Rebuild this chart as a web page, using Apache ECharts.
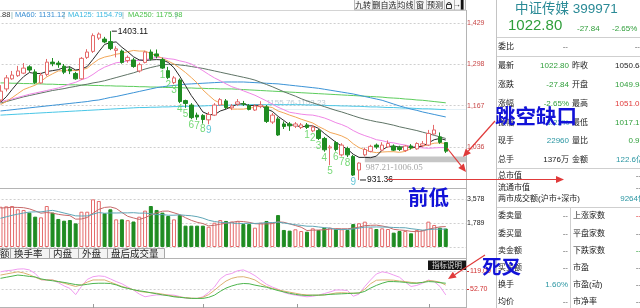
<!DOCTYPE html>
<html>
<head>
<meta charset="utf-8">
<title>中证传媒 399971</title>
<script src="https://cdn.jsdelivr.net/npm/echarts@6/dist/echarts.min.js"></script>
<style>
    html, body { margin: 0; padding: 0; background: #fff; }
    #kline { width: 640px; height: 308px; }
</style>
</head>
<body>
<div id="kline"></div>
<script>
// 81 slots, the last 3 are left empty like the terminal does
const categories = Array.from({ length: 81 }, (_, i) => 'D' + (i + 1));

const opens = [1185, 1220, 1252, 1262, 1270, 1290, 1274, 1239, 1266, 1305,
    1302, 1292, 1283, 1269, 1252, 1320, 1339, 1381, 1378, 1370,
    1342, 1340, 1310, 1312, 1277, 1304, 1337, 1331, 1313, 1278,
    1240, 1248, 1183, 1169, 1137, 1136, 1122, 1137, 1169, 1182,
    1160, 1172, 1173, 1167, 1153, 1164, 1163, 1115, 1125, 1109,
    1109, 1102, 1098, 1106, 1087, 1088, 1063, 1033, 1050, 1011,
    1031, 1006, 963, 1011, 1022, 1042, 1026, 1036, 1039, 1035,
    1025, 1039, 1030, 1040, 1042, 1077, 1068, 1049.94];
const closes = [1213, 1255, 1264, 1277, 1286, 1280, 1240, 1264, 1305, 1300,
    1297, 1273, 1277, 1252, 1317, 1337, 1389, 1394, 1369, 1348,
    1347, 1304, 1320, 1291, 1297, 1337, 1315, 1324, 1286, 1256,
    1255, 1180, 1174, 1129, 1131, 1123, 1139, 1169, 1186, 1161,
    1166, 1179, 1172, 1155, 1166, 1169, 1117, 1137, 1074, 1101,
    1103, 1109, 1106, 1098, 1099, 1063, 1027, 1036, 1028, 1042,
    1011, 947, 985, 1028, 1038, 1036, 1042, 1047, 1026, 1028,
    1039, 1033, 1047, 1046, 1079, 1090, 1050.64, 1022.80];
const lows = [1178, 1212, 1249, 1258, 1267, 1274, 1236, 1236, 1260, 1292,
    1287, 1267, 1267, 1249, 1249, 1315, 1334, 1375, 1365, 1343,
    1320, 1300, 1303, 1287, 1272, 1301, 1310, 1317, 1283, 1251,
    1235, 1175, 1160, 1124, 1122, 1110, 1108, 1134, 1166, 1156,
    1153, 1166, 1166, 1152, 1150, 1159, 1112, 1109, 1071, 1093,
    1087, 1096, 1093, 1093, 1083, 1058, 1021, 978, 1022, 1006,
    1004, 944, 931.36, 1006.05, 1019, 1030, 1023, 1033, 1023, 1023,
    1020, 1028, 1027, 1035, 1039, 1074, 1046, 1017.19];
const highs = [1232, 1264, 1277, 1293, 1302, 1295, 1282, 1271, 1315, 1318,
    1309, 1299, 1292, 1274, 1321, 1346, 1396, 1399, 1385, 1403.11,
    1355, 1345, 1326, 1318, 1303, 1341, 1345, 1345, 1319, 1290,
    1261, 1253, 1186, 1175, 1145, 1140, 1147, 1175, 1191, 1188,
    1172, 1188, 1182, 1172, 1171, 1181, 1169, 1144, 1131, 1117,
    1115, 1115, 1112, 1112, 1106, 1093, 1068, 1042, 1055, 1048,
    1037, 1011, 987.21, 1034, 1043, 1047, 1051, 1057, 1044, 1040,
    1042, 1045, 1051, 1055, 1090, 1106, 1082, 1051.03];

const ma5 = [1178, 1195, 1218, 1240, 1259, 1272, 1269, 1269, 1275, 1278,
    1281, 1288, 1290, 1280, 1283, 1291, 1314, 1338, 1361, 1367,
    1369, 1352, 1338, 1322, 1312, 1310, 1312, 1313, 1312, 1304,
    1287, 1260, 1230, 1199, 1174, 1147, 1139, 1138, 1150, 1156,
    1164, 1172, 1173, 1167, 1168, 1168, 1156, 1149, 1133, 1120,
    1106, 1105, 1099, 1103, 1103, 1095, 1079, 1065, 1051, 1039,
    1029, 1013, 1003, 1003, 1002, 1007, 1026, 1038, 1038, 1036,
    1036, 1035, 1035, 1039, 1049, 1059, 1063, 1058];
const ma10 = [1170, 1180, 1192, 1205, 1218, 1225, 1232, 1244, 1258, 1268,
    1277, 1278, 1280, 1278, 1280, 1286, 1301, 1314, 1321, 1325,
    1330, 1333, 1338, 1342, 1340, 1340, 1332, 1326, 1317, 1308,
    1299, 1286, 1272, 1256, 1239, 1217, 1200, 1184, 1175, 1165,
    1156, 1156, 1156, 1159, 1162, 1166, 1164, 1161, 1150, 1144,
    1137, 1131, 1124, 1118, 1112, 1101, 1092, 1082, 1077, 1071,
    1062, 1046, 1034, 1027, 1021, 1018, 1020, 1021, 1021, 1019,
    1022, 1031, 1037, 1039, 1043, 1048, 1049, 1047];
const ma20 = [1180, 1184, 1188, 1193, 1198, 1203, 1207, 1211, 1215, 1219,
    1223, 1229, 1236, 1241, 1249, 1255, 1266, 1279, 1289, 1296,
    1303, 1305, 1309, 1310, 1310, 1313, 1316, 1320, 1319, 1316,
    1314, 1309, 1305, 1299, 1289, 1278, 1266, 1255, 1246, 1236,
    1227, 1221, 1214, 1207, 1200, 1191, 1182, 1172, 1162, 1154,
    1146, 1143, 1140, 1138, 1137, 1133, 1128, 1121, 1113, 1107,
    1099, 1088, 1079, 1072, 1066, 1059, 1056, 1051, 1049, 1045,
    1042, 1038, 1035, 1033, 1032, 1033, 1034, 1034];
const ma30 = [1175, 1180, 1185, 1190, 1195, 1199, 1203, 1207, 1211, 1215,
    1218, 1221, 1225, 1228, 1232, 1235, 1239, 1242, 1246, 1251,
    1256, 1261, 1266, 1271, 1277, 1283, 1288, 1292, 1296, 1298,
    1298, 1296, 1294, 1291, 1288, 1285, 1281, 1277, 1273, 1269,
    1265, 1261, 1257, 1253, 1248, 1241, 1234, 1227, 1219, 1211,
    1204, 1197, 1189, 1182, 1176, 1170, 1164, 1158, 1152, 1147,
    1141, 1135, 1129, 1124, 1120, 1116, 1113, 1109, 1105, 1100,
    1096, 1092, 1088, 1083, 1078, 1073, 1068, 1063];
const ma60 = [1150, 1152, 1154, 1156, 1158, 1160, 1162, 1164, 1166, 1168,
    1170, 1172, 1174, 1176, 1178, 1180, 1183, 1185, 1189, 1193,
    1196, 1200, 1204, 1208, 1212, 1216, 1220, 1224, 1227, 1229,
    1231, 1233, 1235, 1236, 1237, 1238, 1239, 1240, 1241, 1242,
    1242, 1242, 1242, 1241, 1240, 1239, 1238, 1237, 1236, 1234,
    1232, 1230, 1228, 1226, 1224, 1222, 1219, 1216, 1213, 1210,
    1207, 1204, 1200, 1196, 1192, 1188, 1184, 1178, 1172, 1166,
    1161, 1156, 1152, 1147, 1143, 1139, 1135, 1131.12];
const ma125 = [1137, 1138, 1139, 1140, 1141, 1142, 1143, 1144, 1145, 1146,
    1147, 1148, 1149, 1150, 1151, 1152, 1153, 1154, 1155, 1156,
    1157, 1158, 1159, 1160, 1161, 1161, 1162, 1162, 1163, 1163,
    1164, 1164, 1165, 1165, 1166, 1166, 1167, 1167, 1168, 1168,
    1169, 1169, 1169, 1170, 1170, 1170, 1170, 1170, 1170, 1170,
    1170, 1170, 1170, 1169, 1169, 1168, 1168, 1167, 1167, 1166,
    1166, 1165, 1165, 1164, 1163, 1163, 1162, 1161, 1161, 1160,
    1159, 1159, 1158, 1157, 1157, 1156, 1155, 1154.79];
const ma250 = [1239, 1239, 1238, 1238, 1237, 1237, 1236, 1236, 1235, 1235,
    1234, 1234, 1233, 1233, 1232, 1232, 1231, 1231, 1230, 1230,
    1229, 1229, 1228, 1228, 1227, 1227, 1226, 1226, 1225, 1225,
    1224, 1224, 1223, 1223, 1222, 1222, 1221, 1221, 1220, 1220,
    1220, 1219, 1218, 1217, 1216, 1215, 1214, 1213, 1212, 1211,
    1210, 1209, 1208, 1207, 1206, 1205, 1204, 1203, 1202, 1201,
    1200, 1199, 1198, 1197, 1196, 1195, 1194, 1192, 1191, 1190,
    1188, 1187, 1185, 1184, 1182, 1180, 1178, 1175.98];

const volumes = [3000, 3030, 3055, 2810, 2760, 2560, 2260, 2210, 3055, 2560,
    2090, 1960, 2010, 1760, 2630, 2630, 3550, 3430, 2510, 2810,
    2060, 2060, 2000, 1900, 2260, 2710, 3055, 2760, 2560, 2310,
    2060, 2380, 1590, 1590, 1590, 1590, 1510, 1810, 2010, 1940,
    1900, 1920, 1710, 1710, 1440, 1810, 1940, 1810, 2380, 1270,
    1220, 1320, 1190, 1140, 1390, 1270, 1440, 1440, 1320, 1320,
    1270, 1710, 1770, 1890, 1440, 1340, 1390, 1340, 1070, 1190,
    1190, 1020, 1270, 1270, 1890, 1640, 1440, 1376];
const volMa5 = [2900, 2930, 2960, 2950, 2931, 2843, 2689, 2520, 2569, 2529,
    2435, 2375, 2335, 2076, 2090, 2198, 2516, 2800, 2950, 2986,
    2872, 2574, 2288, 2166, 2056, 2186, 2385, 2537, 2669, 2679,
    2549, 2414, 2180, 1986, 1842, 1748, 1574, 1618, 1702, 1772,
    1834, 1916, 1896, 1836, 1736, 1718, 1722, 1742, 1876, 1842,
    1724, 1600, 1476, 1228, 1252, 1262, 1286, 1336, 1372, 1358,
    1358, 1412, 1478, 1592, 1616, 1630, 1566, 1480, 1316, 1266,
    1236, 1162, 1148, 1188, 1328, 1418, 1502, 1523];
const volMa10 = [2140, 2250, 2360, 2450, 2530, 2600, 2620, 2620, 2680, 2730,
    2639, 2532, 2428, 2323, 2310, 2317, 2446, 2568, 2513, 2538,
    2535, 2545, 2544, 2558, 2521, 2529, 2480, 2413, 2418, 2368,
    2368, 2400, 2359, 2328, 2261, 2149, 1994, 1899, 1844, 1807,
    1791, 1745, 1757, 1769, 1754, 1776, 1819, 1819, 1856, 1789,
    1721, 1661, 1609, 1552, 1547, 1493, 1443, 1406, 1300, 1305,
    1310, 1349, 1407, 1482, 1487, 1494, 1489, 1479, 1454, 1441,
    1433, 1364, 1314, 1252, 1297, 1327, 1332, 1336];

// lower indicator, three lines
const indFast = [116, 120, 122, 126, 127, 123, 110, 87, 86, 86,
    76, 64, 55, 32, 62, 88, 98, 101, 99, 90,
    80, 72, 60, 49, 34, 24, 28, 31, 31, 31,
    30, 25, 19, 18, 18, 24, 40, 60, 90, 105,
    110, 120, 123, 114, 102, 86, 70, 60, 52, 40,
    34, 30, 27, 24, 26, 30, 36, 42, 49, 49,
    47, 26, 34, 62, 86, 108, 116, 112, 104, 96,
    78, 62, 66, 74, 86, 80, 62, 31];
const indMid = [104, 108, 112, 116, 112, 105, 96, 87, 86, 86,
    80, 74, 68, 62, 68, 78, 86, 86, 86, 78,
    70, 62, 56, 50, 44, 41, 39, 37, 34, 30,
    26, 23, 21, 19, 18, 22, 32, 48, 66, 82,
    92, 97, 98, 93, 86, 72, 62, 55, 50, 45,
    41, 37, 33, 31, 30, 30, 31, 34, 38, 39,
    38, 37, 38, 52, 72, 85, 86, 86, 85, 82,
    80, 77, 75, 77, 84, 82, 78, 67];
const indSlow = [92, 96, 100, 104, 102, 99, 97, 90, 86, 83,
    80, 77, 73, 69, 67, 70, 73, 74, 74, 73,
    68, 60, 55, 50, 46, 43, 39, 35, 31, 28,
    24, 22, 20, 18, 18, 18, 22, 30, 44, 56,
    64, 70, 73, 72, 67, 63, 59, 53, 47, 42,
    37, 33, 30, 29, 30, 30, 31, 33, 34, 35,
    36, 37, 38, 44, 56, 66, 74, 80, 80, 79,
    77, 74, 74, 77, 80, 79, 76, 74];

// nine-turn counts under the candles
const tdIndex = [28, 29, 30, 31, 32, 33, 34, 35, 36, 53, 54, 55, 56, 57, 58, 59, 60, 61];
const tdCount = [1, 2, 3, 4, 5, 6, 7, 8, 9, 1, 2, 3, 4, 5, 6, 7, 8, 9];

// price, volume and indicator tick values
const priceTicks = { min: 905, max: 1470.2, step: 131 };
const volTicks = { min: 0, max: 4375, step: 1789 };
const indTicks = { min: -13.6, max: 166.9, step: 66.3 };

const UP = '#e46a6a';
const DOWN = '#1f8c22';
const GREEN = '#2f9e3a';
const TEAL = '#2b96a2';
const RED = '#e03a3a';
const BLUE_NOTE = '#1212d8';
const FONT = '"Liberation Sans", "Noto Sans CJK SC", sans-serif';
const CJK = '"Noto Sans CJK SC", sans-serif';

let candleData = opens.map((o, i) => [o, closes[i], lows[i], highs[i]]);
let volData = volumes.map((v, i) => ({
    value: v,
    itemStyle: closes[i] >= opens[i]
        ? { color: '#fff', borderColor: UP, borderWidth: 1 }
        : { color: DOWN, borderColor: DOWN, borderWidth: 1 }
}));
let tdData = tdIndex.map((idx, k) => ({
    value: [categories[idx], lows[idx]],
    label: { color: tdCount[k] === 9 ? '#3bb6cc' : '#55cf55' }
}));

function maLine(name, data, color, xi, yi) {
    return {
        name: name, type: 'line', data: data,
        xAxisIndex: xi || 0, yAxisIndex: yi || 0,
        symbol: 'none', silent: true,
        lineStyle: { color: color, width: 1 }, z: 3
    };
}

function txt(x, y, s, fill, size, align, extra) {
    return {
        type: 'text', x: x, y: y, silent: true, z: 20,
        style: Object.assign({
            text: s, fill: fill || '#222', fontSize: size || 8, fontFamily: FONT,
            align: align || 'left', verticalAlign: 'middle'
        }, extra || {})
    };
}
function hline(x1, x2, y, color) {
    return { type: 'line', silent: true, z: 10, shape: { x1: x1, y1: y, x2: x2, y2: y }, style: { stroke: color, lineWidth: 1 } };
}
function vline(x, y1, y2, color) {
    return { type: 'line', silent: true, z: 10, shape: { x1: x, y1: y1, x2: x, y2: y2 }, style: { stroke: color, lineWidth: 1 } };
}
function arrow(x1, y1, x2, y2, color) {
    let a = Math.atan2(y2 - y1, x2 - x1);
    let bx = x2 - 8 * Math.cos(a), by = y2 - 8 * Math.sin(a);
    let px = -Math.sin(a) * 3.5, py = Math.cos(a) * 3.5;
    return [
        { type: 'line', silent: true, z: 30, shape: { x1: x1, y1: y1, x2: bx, y2: by }, style: { stroke: color, lineWidth: 1.2 } },
        { type: 'polygon', silent: true, z: 30, shape: { points: [[x2, y2], [bx + px, by + py], [bx - px, by - py]] }, style: { fill: color } }
    ];
}

let g = [];
// frame
g.push(hline(0, 466, 10.5, '#d4d4d4'));
g.push(hline(0, 466, 188.5, '#b4b4b4'));
g.push(hline(0, 466, 258.5, '#b4b4b4'));
g.push(hline(0, 466, 307.5, '#b4b4b4'));
g.push(vline(466.5, 10, 308, '#b4b4b4'));
g.push(vline(496.5, 0, 308, '#c4c4c4'));
[93.5, 203.5, 297.5, 429.5].forEach(x => g.push(vline(x, 304, 308, '#9a9a9a')));

// toolbar
[['九转', 354, 372], ['删自选', 372, 397], ['均线', 397, 414], ['窗', 414, 426], ['预测', 426, 444], ['', 444, 454], ['', 454, 465]].forEach(b => {
    g.push({ type: 'rect', silent: true, z: 10, shape: { x: b[1] + 0.5, y: -1, width: b[2] - b[1], height: 11 }, style: { fill: '#f7f7f7', stroke: '#b9b9b9', lineWidth: 1 } });
    if (b[0]) g.push(txt((b[1] + b[2]) / 2, 5, b[0], '#222', 8, 'center', { fontFamily: CJK }));
});
g.push({ type: 'rect', silent: true, z: 11, shape: { x: 446.5, y: 4.5, width: 5, height: 4 }, style: { fill: 'none', stroke: '#333', lineWidth: 1 } });
g.push({ type: 'arc', silent: true, z: 11, shape: { cx: 449, cy: 4.5, r: 2, startAngle: Math.PI, endAngle: 2 * Math.PI }, style: { fill: 'none', stroke: '#333', lineWidth: 1 } });
g.push(txt(459.5, 5, '→▌', '#111', 8, 'center', { fontWeight: 'bold' }));

// moving average header
g.push(txt(0, 15, '.88', '#333', 7.5));
g.push(txt(11, 15, '|', '#7aa', 7.5));
g.push(txt(15, 15, 'MA60: 1131.12', '#3a8fd2', 7.5));
g.push(txt(63, 15, '|', '#7aa', 7.5));
g.push(txt(68, 15, 'MA125: 1154.79', '#3cb8e0', 7.5));
g.push(txt(122, 15, '|', '#7aa', 7.5));
g.push(txt(128, 15, 'MA250: 1175.98', '#4cc24c', 7.5));
g.push(txt(175, 15, '|', '#7aa', 7.5));

// tab bar between volume and indicator
g.push({ type: 'rect', silent: true, z: 10, shape: { x: -1, y: 248.5, width: 165.5, height: 10 }, style: { fill: '#f3f3f3', stroke: '#a8a8a8', lineWidth: 1 } });
[10.5, 49.5, 78.5, 107.5].forEach(x => g.push(vline(x, 248.5, 258.5, '#a8a8a8')));
[[0, '额'], [14, '换手率'], [53, '内盘'], [82, '外盘'], [111, '盘后成交量']].forEach(t => {
    g.push(txt(t[0], 253.5, t[1], '#222', 9.5, 'left', { fontFamily: CJK }));
});
g.push({ type: 'rect', silent: true, z: 12, shape: { x: 428, y: 260.5, width: 38, height: 9.5 }, style: { fill: '#151515' } });
g.push(txt(447, 265.3, '指标说明', '#d8d8d8', 7.5, 'center', { fontFamily: CJK }));

// quote panel
g.push(txt(515, 9, '中证传媒 399971', '#2a8a96', 13.5));
g.push(txt(508, 25.5, '1022.80', GREEN, 15));
g.push(txt(577, 29, '-27.84', GREEN, 8));
g.push(txt(612, 29, '-2.65%', GREEN, 8));
g.push(hline(497, 640, 37.5, '#cfcfcf'));
g.push(txt(498, 47, '委比', '#222', 8));
g.push(txt(568, 47, '--', '#666', 8, 'right'));
g.push(txt(640, 47, '--', '#666', 8, 'right'));
g.push(hline(497, 640, 56.5, '#cfcfcf'));
[
    [66, '最新', '1022.80', GREEN, '昨收', '1050.64', '#222'],
    [85, '涨跌', '-27.84', GREEN, '开盘', '1049.94', GREEN],
    [104, '涨幅', '-2.65%', GREEN, '最高', '1051.03', RED],
    [122.5, '振幅', '3.22%', TEAL, '最低', '1017.19', GREEN],
    [141, '现手', '22960', TEAL, '量比', '0.97', GREEN],
    [160, '总手', '1376万', '#222', '金额', '122.6亿', TEAL]
].forEach(r => {
    g.push(txt(498, r[0], r[1], '#222', 8));
    g.push(txt(569, r[0], r[2], r[3], 8, 'right'));
    g.push(txt(572, r[0], r[4], '#222', 8));
    g.push(txt(644, r[0], r[5], r[6], 8, 'right'));
});
g.push(hline(497, 640, 168.5, '#cfcfcf'));
g.push(txt(498, 175.5, '总市值', '#222', 8));
g.push(txt(641, 175.5, '--', '#666', 8, 'right'));
g.push(txt(498, 187.5, '流通市值', '#222', 8));
g.push(txt(641, 187.5, '--', '#666', 8, 'right'));
g.push(txt(498, 199, '两市成交额(沪市+深市)', '#222', 8));
g.push(txt(646, 199, '9264亿', TEAL, 8, 'right'));
g.push(hline(497, 640, 207.5, '#cfcfcf'));
g.push(vline(570.5, 207.5, 308, '#cfcfcf'));
[
    [216, '委卖量', '--', '上涨家数', RED],
    [233.5, '委买量', '--', '平盘家数', '#666'],
    [251, '卖金额', '--', '下跌家数', GREEN],
    [268, '买金额', '--', '市盈', '#666'],
    [284.5, '换手', '1.60%', '市盈(动)', '#666'],
    [302, '均价', '--', '市净率', '#666']
].forEach(r => {
    g.push(txt(498, r[0], r[1], '#222', 8));
    g.push(txt(568, r[0], r[2], r[2] === '--' ? '#666' : TEAL, 8, 'right'));
    g.push(txt(573, r[0], r[3], '#222', 8));
    g.push(txt(641, r[0], '--', r[4], 8, 'right'));
});

// hand-drawn notes
arrow(495, 121, 463, 157, RED).forEach(e => g.push(e));
arrow(447, 148, 466, 172, RED).forEach(e => g.push(e));
arrow(387, 179.5, 564, 179.5, RED).forEach(e => g.push(e));
arrow(485, 255, 448, 279, RED).forEach(e => g.push(e));
g.push(txt(495, 116.5, '跳空缺口', BLUE_NOTE, 20.5, 'left', { fontFamily: CJK, fontWeight: 'bold', z: 40 }));
g.push(txt(408, 197, '前低', BLUE_NOTE, 20.5, 'left', { fontFamily: CJK, fontWeight: 'bold' }));
g.push(txt(482, 267, '死叉', BLUE_NOTE, 19.5, 'left', { fontFamily: CJK, fontWeight: 'bold' }));
g.forEach(e => { if (/[跳前死]/.test(e.style && e.style.text || '')) e.z = 40; });

let splitDash = { show: true, lineStyle: { color: '#cfcfcf', type: [2, 2], width: 1 } };
let gridBase = { left: -2.4, width: 468.4, outerBoundsMode: 'none' };

let chartElem = document.getElementById('kline');
if (chartElem) {
    let chart = echarts.init(chartElem, null, { renderer: 'canvas' });
    chart.setOption({
        animation: false,
        backgroundColor: '#fff',
        grid: [
            Object.assign({ top: 10, height: 178.3 }, gridBase),
            Object.assign({ top: 188.3, height: 58.7 }, gridBase),
            Object.assign({ top: 258, height: 49 }, gridBase)
        ],
        xAxis: [0, 1, 2].map(i => ({
            type: 'category', gridIndex: i, data: categories, show: false, boundaryGap: true
        })),
        yAxis: [
            {
                type: 'value', gridIndex: 0, position: 'right', scale: true,
                min: priceTicks.min, max: priceTicks.max, interval: priceTicks.step,
                axisLine: { show: false }, axisTick: { show: false }, splitLine: splitDash,
                axisLabel: { showMinLabel: false, showMaxLabel: false, margin: 1, color: '#c84848', fontSize: 7, fontFamily: FONT }
            },
            {
                type: 'value', gridIndex: 1, position: 'right',
                min: volTicks.min, max: volTicks.max, interval: volTicks.step,
                axisLine: { show: false }, axisTick: { show: false }, splitLine: splitDash,
                axisLabel: { showMinLabel: false, showMaxLabel: false, margin: 1, color: '#222', fontSize: 7, fontFamily: FONT }
            },
            {
                type: 'value', gridIndex: 2, position: 'right',
                min: indTicks.min, max: indTicks.max, interval: indTicks.step,
                axisLine: { show: false },
                axisTick: { show: true, length: 3, lineStyle: { color: '#d03030' } },
                splitLine: splitDash,
                axisLabel: {
                    showMinLabel: false, showMaxLabel: false, margin: 4, color: '#d03030', fontSize: 7, fontFamily: FONT,
                    formatter: v => v.toFixed(2)
                }
            }
        ],
        series: [
            {
                name: 'K', type: 'candlestick', data: candleData, barWidth: 4, z: 5,
                itemStyle: { color: '#fff', color0: DOWN, borderColor: UP, borderColor0: DOWN, borderWidth: 1 },
                markArea: {
                    silent: true,
                    data: [
                        [{ xAxis: categories[63], yAxis: 987.21, itemStyle: { color: '#c6c6c6' },
                           label: { show: true, position: [1, 6.5], formatter: '987.21-1006.05', color: '#a6a6a6', fontSize: 9, fontFamily: '"Liberation Serif", serif' } },
                         { yAxis: 1006.05 }],
                        [{ xAxis: categories[46], yAxis: 1153.23, itemStyle: { color: 'rgba(190,220,235,0.55)' },
                           label: { show: true, position: [0, -10], formatter: '1155.76-1153.23', color: '#bccbd4', fontSize: 8, fontFamily: FONT } },
                         { yAxis: 1155.76 }]
                    ]
                },
                markPoint: {
                    silent: true,
                    data: [
                        { coord: [categories[19], 1403.11], symbol: 'rect', symbolSize: [5, 1], symbolOffset: [4, 0],
                          itemStyle: { color: '#222' },
                          label: { show: true, position: 'right', distance: 1, formatter: '1403.11', color: '#111', fontSize: 8.5, fontFamily: FONT } },
                        { coord: [categories[62], 931.36], symbol: 'rect', symbolSize: [6, 1], symbolOffset: [4, 0],
                          itemStyle: { color: '#222' },
                          label: { show: true, position: 'right', distance: 1, formatter: '931.36', color: '#111', fontSize: 8.5, fontFamily: FONT } }
                    ]
                }
            },
            maLine('MA250', ma250, '#5ccc5c'),
            maLine('MA125', ma125, '#48c6e6'),
            maLine('MA60', ma60, '#3b93d6'),
            maLine('MA30', ma30, '#5f7466'),
            maLine('MA20', ma20, '#ef86e6'),
            maLine('MA10', ma10, '#f2a656'),
            maLine('MA5', ma5, '#2a2a2a'),
            {
                name: 'TD', type: 'scatter', data: tdData, symbol: 'circle', symbolSize: 0.1, z: 6, silent: true,
                itemStyle: { color: 'transparent' },
                label: {
                    show: true, position: 'bottom', distance: 1, fontSize: 10, fontFamily: FONT,
                    formatter: p => String(tdCount[p.dataIndex])
                }
            },
            {
                name: 'VOL', type: 'bar', xAxisIndex: 1, yAxisIndex: 1, data: volData, barWidth: 4, silent: true
            },
            maLine('VMA5', volMa5, '#c66a6a', 1, 1),
            maLine('VMA10', volMa10, '#5fa6b6', 1, 1),
            maLine('IND1', indFast, '#f09cf0', 2, 2),
            maLine('IND2', indMid, '#dcb072', 2, 2),
            maLine('IND3', indSlow, '#4cb44c', 2, 2)
        ],
        graphic: { elements: g }
    });
}
</script>
</body>
</html>
